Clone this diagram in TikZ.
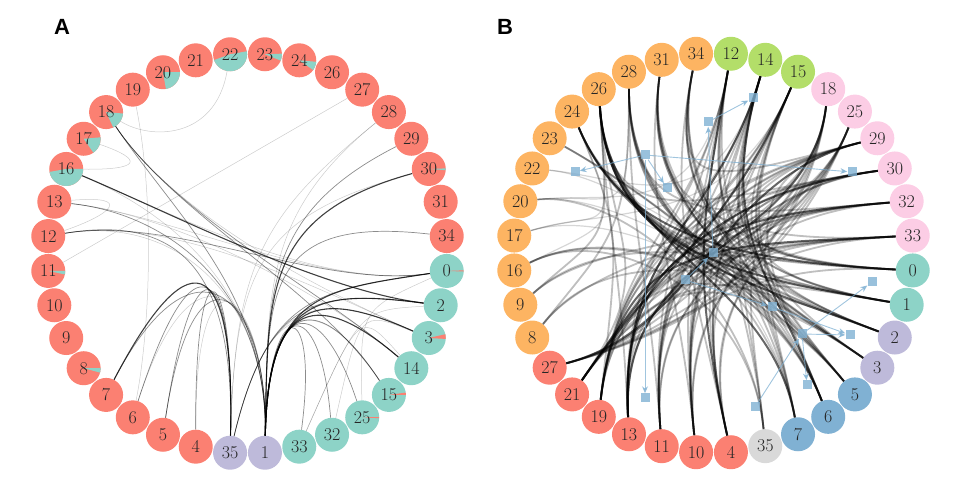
\documentclass[tikz,border=0pt]{standalone}
\usepackage{fontspec}
\newfontfamily\panelfont{Liberation Sans}
\usetikzlibrary{arrows.meta}

\definecolor{cred}{HTML}{FB8072}
\definecolor{cteal}{HTML}{8DD3C7}
\definecolor{clav}{HTML}{BEBADA}
\definecolor{corange}{HTML}{FDB462}
\definecolor{cgreen}{HTML}{B3DE69}
\definecolor{cpink}{HTML}{FCCDE5}
\definecolor{cblue}{HTML}{80B1D3}
\definecolor{cgrey}{HTML}{D9D9D9}

\tikzset{
  nd/.style={circle, minimum size=34pt, inner sep=0pt, font=\fontsize{18}{18}\selectfont, text=black!85},
  ndr/.style={nd, fill=cred}, ndt/.style={nd, fill=cteal}, ndl/.style={nd, fill=clav},
  ndo/.style={nd, fill=corange}, ndg/.style={nd, fill=cgreen}, ndp/.style={nd, fill=cpink},
  ndb/.style={nd, fill=cblue}, ndy/.style={nd, fill=cgrey},
  wedge/.style n args={3}{path picture={\fill[#1] (path picture bounding box.center) -- ++(#2:18pt) arc[start angle=#2, end angle=#3, radius=18pt] -- cycle;}},
  lka/.style={black, opacity=.45, line width=.7pt},
  lkah/.style={black, opacity=.75, line width=1.1pt},
  lkal/.style={black, opacity=.2, line width=.5pt},
  lkb/.style={black, opacity=.25, line width=1.8pt},
  lkbd/.style={black, opacity=.6, line width=2pt},
  lkbl/.style={black, opacity=.16, line width=1.2pt},
  sq/.style={rectangle, fill=cblue, fill opacity=.8, minimum size=9pt, inner sep=0pt},
  flow/.style={cblue, opacity=.75, line width=.9pt, -{Stealth[length=7pt,width=6pt]}},
  panel/.style={font=\panelfont\bfseries\fontsize{22}{22}\selectfont}
}

\begin{document}
\begin{tikzpicture}[x=1pt, y=1pt]
\useasboundingbox (0,0) rectangle (955,487);

\node[panel] (labA) at (62,460) {A};
\node[panel] (labB) at (505,460) {B};

% panel A
\begin{scope}[shift={(247.5,233.5)}]
\node[ndt, wedge={cred}{-2}{2}] (a0) at (355:200) {0};
\node[ndr] (a34) at (5:200) {34};
\node[ndr] (a31) at (15:200) {31};
\node[ndr, wedge={cteal}{-4}{2}] (a30) at (25:200) {30};
\node[ndr] (a29) at (35:200) {29};
\node[ndr] (a28) at (45:200) {28};
\node[ndr] (a27) at (55:200) {27};
\node[ndr] (a26) at (65:200) {26};
\node[ndr, wedge={cteal}{-35}{-5}] (a24) at (75:200) {24};
\node[ndr, wedge={cteal}{-22}{2}] (a23) at (85:200) {23};
\node[ndr, wedge={cteal}{200}{370}] (a22) at (95:200) {22};
\node[ndr] (a21) at (105:200) {21};
\node[ndr, wedge={cteal}{-80}{0}] (a20) at (115:200) {20};
\node[ndr] (a19) at (125:200) {19};
\node[ndr, wedge={cteal}{-65}{-5}] (a18) at (135:200) {18};
\node[ndr, wedge={cteal}{-55}{5}] (a17) at (145:200) {17};
\node[ndr, wedge={cteal}{190}{360}] (a16) at (155:200) {16};
\node[ndr] (a13) at (165:200) {13};
\node[ndr] (a12) at (175:200) {12};
\node[ndr, wedge={cteal}{-12}{0}] (a11) at (185:200) {11};
\node[ndr] (a10) at (195:200) {10};
\node[ndr] (a9) at (205:200) {9};
\node[ndr, wedge={cteal}{-15}{0}] (a8) at (215:200) {8};
\node[ndr] (a7) at (225:200) {7};
\node[ndr] (a6) at (235:200) {6};
\node[ndr] (a5) at (245:200) {5};
\node[ndr] (a4) at (255:200) {4};
\node[ndl] (a35) at (265:200) {35};
\node[ndl] (a1) at (275:200) {1};
\node[ndt] (a33) at (285:200) {33};
\node[ndt] (a32) at (295:200) {32};
\node[ndt, wedge={cred}{-3}{1}] (a25) at (305:200) {25};
\node[ndt, wedge={cred}{0}{8}] (a15) at (315:200) {15};
\node[ndt] (a14) at (325:200) {14};
\node[ndt, wedge={cred}{-3}{13}] (a3) at (335:200) {3};
\node[ndt] (a2) at (345:200) {2};
\end{scope}

\coordinate (hAl) at (268,192);
\coordinate (hAm) at (235,222);
\coordinate (hAt) at (320,197);
\coordinate (hAs) at (360,177);
\coordinate (hAb) at (195,262);
\coordinate (hAw) at (175,272);
\coordinate (hAe) at (262,272);

\draw[lkah] (a1) .. controls (hAl) and (hAt) .. (a0);
\draw[lkah] (a1) .. controls (hAl) and (hAt) .. (a2);
\draw[lkah] (a1) .. controls (hAl) and (hAt) .. (a3);
\draw[lkah] (a1) .. controls (hAl) and (hAt) .. (a14);
\draw[lka] (a1) .. controls (hAl) and (hAt) .. (a15);
\draw[lka] (a1) .. controls (hAl) and (hAt) .. (a25);
\draw[lka] (a1) .. controls (hAl) and (hAt) .. (a32);
\draw[lka] (a1) .. controls (hAl) and (hAt) .. (a33);
\draw[lkah] (a1) .. controls (hAl) and (hAe) .. (a30);
\draw[lka] (a1) .. controls (hAl) and (hAe) .. (a29);
\draw[lka] (a1) .. controls (hAl) and (hAe) .. (a34);
\draw[lkal] (a1) .. controls (hAl) and (hAe) .. (a28);
\draw[lka] (a35) .. controls (hAl) and (hAt) .. (a0);
\draw[lka] (a35) .. controls (hAl) and (hAt) .. (a2);
\draw[lkal] (a35) .. controls (hAl) and (hAt) .. (a3);
\draw[lkal] (a35) .. controls (hAl) and (hAt) .. (a15);
\draw[lka] (a35) .. controls (hAm) and (hAb) .. (a4);
\draw[lka] (a35) .. controls (hAm) and (hAb) .. (a5);
\draw[lka] (a35) .. controls (hAm) and (hAb) .. (a6);
\draw[lkah] (a35) .. controls (hAm) and (hAb) .. (a7);
\draw[lka] (a1) .. controls (hAl) and (hAb) .. (a7);
\draw[lkal] (a1) .. controls (hAl) and (hAb) .. (a6);
\draw[lka] (a1) .. controls (hAl) and (hAb) .. (a5);
\draw[lkal] (a1) .. controls (hAl) and (hAb) .. (a4);
\draw[lkal] (a35) .. controls (hAm) and (hAe) .. (a30);
\draw[lka] (a35) .. controls (hAm) and (hAw) .. (a12);
\draw[lkal] (a1) .. controls (hAl) and (hAw) .. (a12);
\draw[lka] (a1) .. controls (hAl) and (hAw) .. (a13);
\draw[lkal] (a1) .. controls (hAl) and (hAw) .. (a16);
\draw[lka] (a1) .. controls (hAl) and (hAw) .. (a18);
\draw[lka] (a18) .. controls (hAw) and (hAt) .. (a15);
\draw[lka] (a18) .. controls (hAw) and (hAt) .. (a14);
\draw[lkal] (a18) .. controls (hAw) and (hAt) .. (a3);
\draw[lkah] (a16) .. controls (hAw) and (hAt) .. (a2);
\draw[lkal] (a16) .. controls (hAw) and (hAt) .. (a0);
\draw[lkal] (a13) .. controls (hAw) and (hAt) .. (a0);
\draw[lka] (a12) .. controls (hAw) and (hAt) .. (a0);
\draw[lkal] (a12) .. controls (hAw) and (hAt) .. (a3);
\draw[lkal] (a13) .. controls (hAw) and (hAt) .. (a14);
\draw[lkal] (a25) .. controls (hAs) and (hAs) .. (a0);
\draw[lkal] (a33) .. controls (hAs) and (hAs) .. (a2);
\draw[lkal] (a32) .. controls (hAs) and (hAs) .. (a3);
\draw[lkal] (a33) .. controls (hAs) and (hAs) .. (a14);
\draw[lkal] (a22) .. controls (215,347) and (150,347) .. (a18);
\draw[lkal] (a27) -- (a11);
\draw[lkal] (a28) .. controls (hAe) and (hAm) .. (a35);
\draw[lkal] (a19) .. controls (155,287) and (150,157) .. (a6);
\draw[lkal] (a17) .. controls (145,327) and (140,317) .. (a16);
\draw[lkal] (a13) .. controls (135,292) and (110,272) .. (a12);

% panel B
\begin{scope}[shift={(713.5,234)}]
\node[ndt] (b0) at (355:200) {0};
\node[ndp] (b33) at (5:200) {33};
\node[ndp] (b32) at (15:200) {32};
\node[ndp] (b30) at (25:200) {30};
\node[ndp] (b29) at (35:200) {29};
\node[ndp] (b25) at (45:200) {25};
\node[ndp] (b18) at (55:200) {18};
\node[ndg] (b15) at (65:200) {15};
\node[ndg] (b14) at (75:200) {14};
\node[ndg] (b12) at (85:200) {12};
\node[ndo] (b34) at (95:200) {34};
\node[ndo] (b31) at (105:200) {31};
\node[ndo] (b28) at (115:200) {28};
\node[ndo] (b26) at (125:200) {26};
\node[ndo] (b24) at (135:200) {24};
\node[ndo] (b23) at (145:200) {23};
\node[ndo] (b22) at (155:200) {22};
\node[ndo] (b20) at (165:200) {20};
\node[ndo] (b17) at (175:200) {17};
\node[ndo] (b16) at (185:200) {16};
\node[ndo] (b9) at (195:200) {9};
\node[ndo] (b8) at (205:200) {8};
\node[ndr] (b27) at (215:200) {27};
\node[ndr] (b21) at (225:200) {21};
\node[ndr] (b19) at (235:200) {19};
\node[ndr] (b13) at (245:200) {13};
\node[ndr] (b11) at (255:200) {11};
\node[ndr] (b10) at (265:200) {10};
\node[ndr] (b4) at (275:200) {4};
\node[ndy] (b35) at (285:200) {35};
\node[ndb] (b7) at (295:200) {7};
\node[ndb] (b6) at (305:200) {6};
\node[ndb] (b5) at (315:200) {5};
\node[ndl] (b3) at (325:200) {3};
\node[ndl] (b2) at (335:200) {2};
\node[ndt] (b1) at (345:200) {1};
\end{scope}

% where each node's edges leave it
\coordinate (b33c) at ([shift={(-190,-10)}]b33.center);
\coordinate (b32c) at ([shift={(-190,-15)}]b32.center);
\coordinate (b30c) at ([shift={(-180,-25)}]b30.center);
\coordinate (b29c) at ([shift={(-160,-40)}]b29.center);
\coordinate (b25c) at ([shift={(-60,-150)}]b25.center);
\coordinate (b18c) at ([shift={(-20,-160)}]b18.center);
\coordinate (b15c) at ([shift={(-70,-160)}]b15.center);
\coordinate (b14c) at ([shift={(-50,-170)}]b14.center);
\coordinate (b12c) at ([shift={(-30,-170)}]b12.center);
\coordinate (b34c) at ([shift={(-30,-150)}]b34.center);
\coordinate (b31c) at ([shift={(-20,-150)}]b31.center);
\coordinate (b28c) at ([shift={(0,-160)}]b28.center);
\coordinate (b26c) at ([shift={(10,-160)}]b26.center);
\coordinate (b24c) at ([shift={(50,-120)}]b24.center);
\coordinate (b23c) at ([shift={(90,-50)}]b23.center);
\coordinate (b22c) at ([shift={(100,-10)}]b22.center);
\coordinate (b20c) at ([shift={(100,10)}]b20.center);
\coordinate (b17c) at ([shift={(100,30)}]b17.center);
\coordinate (b16c) at ([shift={(100,50)}]b16.center);
\coordinate (b9c) at ([shift={(90,80)}]b9.center);
\coordinate (b8c) at ([shift={(80,100)}]b8.center);
\coordinate (b27c) at ([shift={(150,40)}]b27.center);
\coordinate (b21c) at ([shift={(90,130)}]b21.center);
\coordinate (b19c) at ([shift={(20,180)}]b19.center);
\coordinate (b13c) at ([shift={(-10,190)}]b13.center);
\coordinate (b11c) at ([shift={(-15,190)}]b11.center);
\coordinate (b10c) at ([shift={(-20,190)}]b10.center);
\coordinate (b4c) at ([shift={(-40,180)}]b4.center);
\coordinate (b35c) at ([shift={(-15,150)}]b35.center);
\coordinate (b7c) at ([shift={(-30,160)}]b7.center);
\coordinate (b6c) at ([shift={(-60,150)}]b6.center);
\coordinate (b5c) at ([shift={(-100,120)}]b5.center);
\coordinate (b3c) at ([shift={(-130,90)}]b3.center);
\coordinate (b2c) at ([shift={(-160,60)}]b2.center);
\coordinate (b1c) at ([shift={(-180,30)}]b1.center);
\coordinate (b0c) at ([shift={(-190,10)}]b0.center);

% pink
\draw[lkb] (b18) .. controls (b18c) and (b27c) .. (b27);
\draw[lkbd] (b18) .. controls (b18c) and (b13c) .. (b13);
\draw[lkb] (b18) .. controls (b18c) and (b10c) .. (b10);
\draw[lkb] (b18) .. controls (b18c) and (b21c) .. (b21);
\draw[lkb] (b18) .. controls (b18c) and (b19c) .. (b19);
\draw[lkb] (b18) .. controls (b18c) and (b11c) .. (b11);
\draw[lkb] (b18) .. controls (b18c) and (b4c) .. (b4);
\draw[lkb] (b25) .. controls (b25c) and (b21c) .. (b21);
\draw[lkb] (b25) .. controls (b25c) and (b19c) .. (b19);
\draw[lkb] (b25) .. controls (b25c) and (b11c) .. (b11);
\draw[lkb] (b25) .. controls (b25c) and (b13c) .. (b13);
\draw[lkb] (b25) .. controls (b25c) and (b10c) .. (b10);
\draw[lkb] (b25) .. controls (b25c) and (b4c) .. (b4);
\draw[lkb] (b25) .. controls (b25c) and (b27c) .. (b27);
\draw[lkbd] (b29) .. controls (b29c) and (b27c) .. (b27);
\draw[lkb] (b29) .. controls (b29c) and (b13c) .. (b13);
\draw[lkb] (b29) .. controls (b29c) and (b4c) .. (b4);
\draw[lkb] (b29) .. controls (b29c) and (b10c) .. (b10);
\draw[lkb] (b29) .. controls (b29c) and (b21c) .. (b21);
\draw[lkb] (b29) .. controls (b29c) and (b19c) .. (b19);
\draw[lkb] (b29) .. controls (b29c) and (b11c) .. (b11);
\draw[lkbd] (b30) .. controls (b30c) and (b21c) .. (b21);
\draw[lkb] (b30) .. controls (b30c) and (b19c) .. (b19);
\draw[lkb] (b30) .. controls (b30c) and (b10c) .. (b10);
\draw[lkb] (b30) .. controls (b30c) and (b11c) .. (b11);
\draw[lkb] (b30) .. controls (b30c) and (b13c) .. (b13);
\draw[lkb] (b30) .. controls (b30c) and (b27c) .. (b27);
\draw[lkb] (b32) .. controls (b32c) and (b27c) .. (b27);
\draw[lkbd] (b32) .. controls (b32c) and (b13c) .. (b13);
\draw[lkb] (b32) .. controls (b32c) and (b4c) .. (b4);
\draw[lkb] (b32) .. controls (b32c) and (b19c) .. (b19);
\draw[lkb] (b32) .. controls (b32c) and (b21c) .. (b21);
\draw[lkb] (b32) .. controls (b32c) and (b11c) .. (b11);
\draw[lkb] (b32) .. controls (b32c) and (b10c) .. (b10);
\draw[lkb] (b33) .. controls (b33c) and (b21c) .. (b21);
\draw[lkbd] (b33) .. controls (b33c) and (b19c) .. (b19);
\draw[lkb] (b33) .. controls (b33c) and (b11c) .. (b11);
\draw[lkb] (b33) .. controls (b33c) and (b10c) .. (b10);
\draw[lkb] (b33) .. controls (b33c) and (b13c) .. (b13);
\draw[lkb] (b33) .. controls (b33c) and (b27c) .. (b27);
\draw[lkb] (b33) .. controls (b33c) and (b4c) .. (b4);
\draw[lkb] (b30) .. controls (b30c) and (b7c) .. (b7);
\draw[lkb] (b29) .. controls (b29c) and (b6c) .. (b6);
% green
\draw[lkbd] (b12) .. controls (b12c) and (b4c) .. (b4);
\draw[lkb] (b12) .. controls (b12c) and (b10c) .. (b10);
\draw[lkb] (b12) .. controls (b12c) and (b27c) .. (b27);
\draw[lkb] (b12) .. controls (b12c) and (b13c) .. (b13);
\draw[lkb] (b12) .. controls (b12c) and (b19c) .. (b19);
\draw[lkb] (b12) .. controls (b12c) and (b11c) .. (b11);
\draw[lkb] (b14) .. controls (b14c) and (b11c) .. (b11);
\draw[lkbd] (b14) .. controls (b14c) and (b13c) .. (b13);
\draw[lkb] (b14) .. controls (b14c) and (b10c) .. (b10);
\draw[lkb] (b14) .. controls (b14c) and (b19c) .. (b19);
\draw[lkb] (b14) .. controls (b14c) and (b4c) .. (b4);
\draw[lkb] (b15) .. controls (b15c) and (b19c) .. (b19);
\draw[lkbd] (b15) .. controls (b15c) and (b21c) .. (b21);
\draw[lkb] (b15) .. controls (b15c) and (b4c) .. (b4);
\draw[lkb] (b15) .. controls (b15c) and (b11c) .. (b11);
\draw[lkb] (b15) .. controls (b15c) and (b13c) .. (b13);
\draw[lkb] (b15) .. controls (b15c) and (b10c) .. (b10);
\draw[lkb] (b12) .. controls (b12c) and (b7c) .. (b7);
\draw[lkbd] (b14) .. controls (b14c) and (b6c) .. (b6);
\draw[lkb] (b15) .. controls (b15c) and (b5c) .. (b5);
\draw[lkb] (b14) .. controls (b14c) and (b7c) .. (b7);
\draw[lkb] (b15) .. controls (b15c) and (b3c) .. (b3);
\draw[lkb] (b14) .. controls (b14c) and (b2c) .. (b2);
\draw[lkb] (b12) .. controls (b12c) and (b0c) .. (b0);
\draw[lkb] (b15) .. controls (b15c) and (b1c) .. (b1);
% orange, top
\draw[lkb] (b26) .. controls (b26c) and (b0c) .. (b0);
\draw[lkbd] (b26) .. controls (b26c) and (b2c) .. (b2);
\draw[lkb] (b26) .. controls (b26c) and (b6c) .. (b6);
\draw[lkb] (b26) .. controls (b26c) and (b5c) .. (b5);
\draw[lkbd] (b26) .. controls (b26c) and (b7c) .. (b7);
\draw[lkb] (b28) .. controls (b28c) and (b3c) .. (b3);
\draw[lkb] (b28) .. controls (b28c) and (b5c) .. (b5);
\draw[lkb] (b28) .. controls (b28c) and (b2c) .. (b2);
\draw[lkb] (b28) .. controls (b28c) and (b7c) .. (b7);
\draw[lkb] (b28) .. controls (b28c) and (b6c) .. (b6);
\draw[lkb] (b31) .. controls (b31c) and (b6c) .. (b6);
\draw[lkb] (b31) .. controls (b31c) and (b2c) .. (b2);
\draw[lkb] (b31) .. controls (b31c) and (b3c) .. (b3);
\draw[lkb] (b31) .. controls (b31c) and (b5c) .. (b5);
\draw[lkb] (b34) .. controls (b34c) and (b7c) .. (b7);
\draw[lkb] (b34) .. controls (b34c) and (b1c) .. (b1);
\draw[lkb] (b34) .. controls (b34c) and (b2c) .. (b2);
\draw[lkb] (b34) .. controls (b34c) and (b5c) .. (b5);
\draw[lkb] (b34) .. controls (b34c) and (b6c) .. (b6);
\draw[lkb] (b24) .. controls (b24c) and (b1c) .. (b1);
\draw[lkb] (b24) .. controls (b24c) and (b3c) .. (b3);
\draw[lkb] (b24) .. controls (b24c) and (b5c) .. (b5);
\draw[lkb] (b24) .. controls (b24c) and (b6c) .. (b6);
\draw[lkb] (b26) .. controls (b26c) and (b13c) .. (b13);
\draw[lkb] (b28) .. controls (b28c) and (b11c) .. (b11);
\draw[lkb] (b31) .. controls (b31c) and (b10c) .. (b10);
\draw[lkb] (b34) .. controls (b34c) and (b4c) .. (b4);
\draw[lkb] (b24) .. controls (b24c) and (b19c) .. (b19);
\draw[lkb] (b26) .. controls (b26c) and (b21c) .. (b21);
\draw[lkb] (b26) .. controls (b26c) and (b30c) .. (b30);
\draw[lkb] (b28) .. controls (b28c) and (b32c) .. (b32);
\draw[lkb] (b34) .. controls (b34c) and (b29c) .. (b29);
\draw[lkb] (b31) .. controls (b31c) and (b33c) .. (b33);
% orange, left
\draw[lkbl] (b22) .. controls (b22c) and (b2c) .. (b2);
\draw[lkbl] (b20) .. controls (b20c) and (b3c) .. (b3);
\draw[lkbl] (b17) .. controls (b17c) and (b5c) .. (b5);
\draw[lkb] (b16) .. controls (b16c) and (b6c) .. (b6);
\draw[lkb] (b9) .. controls (b9c) and (b0c) .. (b0);
\draw[lkb] (b8) .. controls (b8c) and (b1c) .. (b1);
\draw[lkbl] (b23) .. controls (b23c) and (b7c) .. (b7);
\draw[lkb] (b16) .. controls (b16c) and (b3c) .. (b3);
\draw[lkb] (b9) .. controls (b9c) and (b25c) .. (b25);
\draw[lkb] (b8) .. controls (b8c) and (b18c) .. (b18);
\draw[lkbl] (b20) .. controls (b20c) and (b12c) .. (b12);
\draw[lkbl] (b22) .. controls (b22c) and (b14c) .. (b14);
\draw[lkbl] (b17) .. controls (b17c) and (b15c) .. (b15);
\draw[lkb] (b9) .. controls (b9c) and (b26c) .. (b26);
\draw[lkb] (b8) .. controls (b8c) and (b28c) .. (b28);
\draw[lkbl] (b16) .. controls (b16c) and (b24c) .. (b24);
\draw[lkbl] (b17) .. controls (b17c) and (b26c) .. (b26);
\draw[lkbl] (b20) .. controls (b20c) and (b28c) .. (b28);
% teal, lavender, blue, grey, red
\draw[lkbd] (b0) .. controls (b0c) and (b24c) .. (b24);
\draw[lkb] (b0) .. controls (b0c) and (b31c) .. (b31);
\draw[lkb] (b0) .. controls (b0c) and (b34c) .. (b34);
\draw[lkb] (b0) .. controls (b0c) and (b14c) .. (b14);
\draw[lkbd] (b1) .. controls (b1c) and (b26c) .. (b26);
\draw[lkb] (b1) .. controls (b1c) and (b28c) .. (b28);
\draw[lkb] (b1) .. controls (b1c) and (b12c) .. (b12);
\draw[lkb] (b2) .. controls (b2c) and (b24c) .. (b24);
\draw[lkb] (b3) .. controls (b3c) and (b23c) .. (b23);
\draw[lkb] (b3) .. controls (b3c) and (b31c) .. (b31);
\draw[lkb] (b5) .. controls (b5c) and (b23c) .. (b23);
\draw[lkb] (b6) .. controls (b6c) and (b15c) .. (b15);
\draw[lkb] (b5) .. controls (b5c) and (b14c) .. (b14);
\draw[lkb] (b35) .. controls (b35c) and (b16c) .. (b16);
\draw[lkb] (b35) .. controls (b35c) and (b20c) .. (b20);
\draw[lkb] (b35) .. controls (b35c) and (b14c) .. (b14);
\draw[lkb] (b35) .. controls (b35c) and (b30c) .. (b30);
\draw[lkb] (b35) .. controls (b35c) and (b12c) .. (b12);
\draw[lkb] (b27) .. controls (b27c) and (b0c) .. (b0);
\draw[lkb] (b21) .. controls (b21c) and (b1c) .. (b1);
\draw[lkb] (b19) .. controls (b19c) and (b2c) .. (b2);
\draw[lkb] (b13) .. controls (b13c) and (b3c) .. (b3);

% flow between groups
\node[sq] (q1) at (575,315) {};
\node[sq] (q2) at (645,332) {};
\node[sq] (q3) at (667,299) {};
\node[sq] (q4) at (708,365) {};
\node[sq] (q5) at (753,389) {};
\node[sq] (q6) at (852,315) {};
\node[sq] (q7) at (685,207) {};
\node[sq] (q8) at (772,180) {};
\node[sq] (q9) at (802,153) {};
\node[sq] (q10) at (850,152) {};
\node[sq] (q11) at (872,205) {};
\node[sq] (q12) at (807,102) {};
\node[sq] (q13) at (755,80) {};
\node[sq] (q14) at (645,89) {};
\node[sq] (q15) at (713,234) {};

\draw[flow] (q2) -- (q1);
\draw[flow] (q2) -- (q6);
\draw[flow] (q2) -- (q14);
\draw[flow] (q2) -- (q3);
\draw[flow] (q4) -- (q5);
\draw[flow] (q15) -- (q4);
\draw[flow] (q7) -- (q15);
\draw[flow] (q7) -- (q8);
\draw[flow] (q8) -- (q10);
\draw[flow] (q9) -- (q10);
\draw[flow] (q9) -- (q12);
\draw[flow] (q9) -- (q11);
\draw[flow] (q13) -- (q9);
\end{tikzpicture}
\end{document}
